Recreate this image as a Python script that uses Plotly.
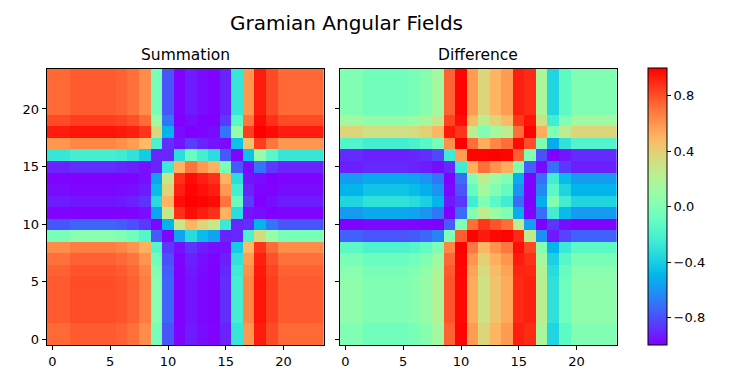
import numpy as np
import plotly.graph_objects as go

# Rescaled time series (24 points, min-max scaled to [-1, 1])
series = [-0.93, -0.93, -0.95, -0.95, -0.95, -0.95, -0.94, -0.92, -0.87,
          -0.34, 0.50, 0.97, 1.00, 0.99, 0.97, 0.70, -0.09, -0.85, -1.00,
          -0.97, -0.93, -0.93, -0.93, -0.93]
panel_titles = ["Summation", "Difference"]
suptitle = "Gramian Angular Fields"
axis_ticks = [0, 5, 10, 15, 20]
cbar_ticks = [-0.8, -0.4, 0.0, 0.4, 0.8]
cbar_labels = ["\u22120.8", "\u22120.4", "0.0", "0.4", "0.8"]

# Gramian Angular Fields
xs = np.clip(np.array(series), -1, 1)
sn = np.sqrt(1 - xs ** 2)
gasf = np.outer(xs, xs) - np.outer(sn, sn)
gadf = np.outer(sn, xs) - np.outer(xs, sn)
n = len(series)
idx = list(range(n))

# matplotlib 'rainbow' colormap
def rainbow(t):
    r = min(1, abs(2 * t - 0.5))
    g = min(1, abs(np.sin(np.pi * t)))
    b = min(1, abs(np.cos(np.pi * t / 2)))
    return f"rgb({int(round(r*255))},{int(round(g*255))},{int(round(b*255))})"

cscale = [[i / 40, rainbow(i / 40)] for i in range(41)]

W, H = 738, 387
px_l1, px_r1 = 46.7, 324.0
px_l2, px_r2 = 339.7, 617.0
px_top, px_bot = 69.0, 347.0
FONT = "DejaVu Sans"

fig = go.Figure()
fig.add_trace(go.Heatmap(z=gasf, x=idx, y=idx, colorscale=cscale,
                         zmin=float(gasf.min()), zmax=float(gasf.max()),
                         showscale=False, xaxis="x", yaxis="y"))
fig.add_trace(go.Heatmap(
    z=gadf, x=idx, y=idx, colorscale=cscale,
    zmin=float(gadf.min()), zmax=float(gadf.max()),
    xaxis="x2", yaxis="y2",
    colorbar=dict(x=648 / W, xanchor="left", xpad=0, ypad=0,
                  thickness=19, thicknessmode="pixels",
                  len=(px_bot - px_top) / H, lenmode="fraction",
                  y=(H - px_bot) / H, yanchor="bottom",
                  outlinecolor="black", outlinewidth=1,
                  ticks="outside", ticklen=4, tickcolor="black",
                  tickvals=cbar_ticks, ticktext=cbar_labels,
                  tickfont=dict(family=FONT, size=13, color="black"))))

axcommon = dict(range=[-0.5, n - 0.5], showline=True, linecolor="black", linewidth=1,
                mirror=True, ticks="outside", ticklen=4, tickcolor="black",
                tickvals=axis_ticks, showgrid=False, zeroline=False,
                tickfont=dict(family=FONT, size=13, color="black"))
ydom = [(H - px_bot) / H, (H - px_top) / H]
fig.update_layout(
    width=W, height=H, margin=dict(l=0, r=0, t=0, b=0),
    paper_bgcolor="white", plot_bgcolor="white",
    xaxis=dict(domain=[px_l1 / W, px_r1 / W], anchor="y", **axcommon),
    yaxis=dict(domain=ydom, anchor="x", **axcommon),
    xaxis2=dict(domain=[px_l2 / W, px_r2 / W], anchor="y2", **axcommon),
    yaxis2=dict(domain=ydom, anchor="x2", showticklabels=False, **axcommon),
    annotations=[
        dict(text=suptitle, x=346 / W, y=(H - 23) / H, xref="paper", yref="paper",
             showarrow=False, xanchor="center", yanchor="middle",
             font=dict(family=FONT, size=20, color="black")),
        dict(text=panel_titles[0], x=(px_l1 + px_r1) / 2 / W, y=(H - 55) / H,
             xref="paper", yref="paper", showarrow=False, xanchor="center", yanchor="middle",
             font=dict(family=FONT, size=15.5, color="black")),
        dict(text=panel_titles[1], x=(px_l2 + px_r2) / 2 / W, y=(H - 55) / H,
             xref="paper", yref="paper", showarrow=False, xanchor="center", yanchor="middle",
             font=dict(family=FONT, size=15.5, color="black")),
    ],
)
fig.write_html("out.html")
